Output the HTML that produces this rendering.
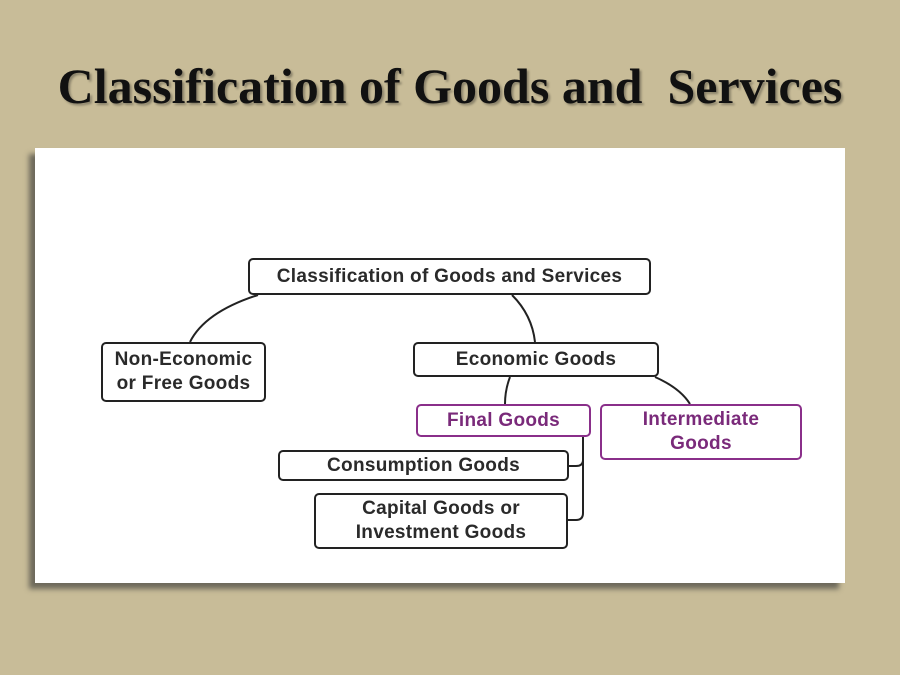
<!DOCTYPE html>
<html><head><style>
body{margin:0;width:900px;height:675px;background:#c8bc98;overflow:hidden;position:relative;font-family:"Liberation Sans",sans-serif}
h1{position:absolute;left:0;width:900px;top:57px;margin:0;text-align:center;font:bold 50px "Liberation Serif",serif;color:#111;text-shadow:2px 2px 2px #8a826a;white-space:nowrap}
.panel{position:absolute;left:35px;top:148px;width:810px;height:435px;background:#fff;box-shadow:-6px 6px 5px #6e6a5c}
.b{position:absolute;box-sizing:border-box;border:2px solid #222;border-radius:5px;display:flex;align-items:center;justify-content:center;text-align:center;font-size:19px;letter-spacing:0.3px;font-weight:bold;line-height:24px;color:#2a2a2a;background:#fff;white-space:nowrap}
.p{border-color:#8a2f8a;color:#7a2a7a}
</style></head><body>
<h1>Classification of Goods and&nbsp; Services</h1>
<div class="panel"></div>
<svg width="900" height="675" style="position:absolute;left:0;top:0" fill="none" stroke="#222" stroke-width="2">
<path d="M258 295 Q205 312 190 342"/>
<path d="M512 295 Q532 315 535 342"/>
<path d="M510 377 Q505 390 505 404"/>
<path d="M655 377 Q680 388 690 404"/>
<path d="M583 436 V513 Q583 520 576 520 H567"/>
<path d="M569 466 H576 Q583 466 583 460"/>
</svg>
<div class="b" style="left:248px;top:258px;width:403px;height:37px">Classification of Goods and Services</div>
<div class="b" style="left:101px;top:342px;width:165px;height:60px">Non-Economic<br>or Free Goods</div>
<div class="b" style="left:413px;top:342px;width:246px;height:35px">Economic Goods</div>
<div class="b p" style="left:416px;top:404px;width:175px;height:33px">Final Goods</div>
<div class="b p" style="left:600px;top:404px;width:202px;height:56px">Intermediate<br>Goods</div>
<div class="b" style="left:278px;top:450px;width:291px;height:31px">Consumption Goods</div>
<div class="b" style="left:314px;top:493px;width:254px;height:56px">Capital Goods or<br>Investment Goods</div>
</body></html>
